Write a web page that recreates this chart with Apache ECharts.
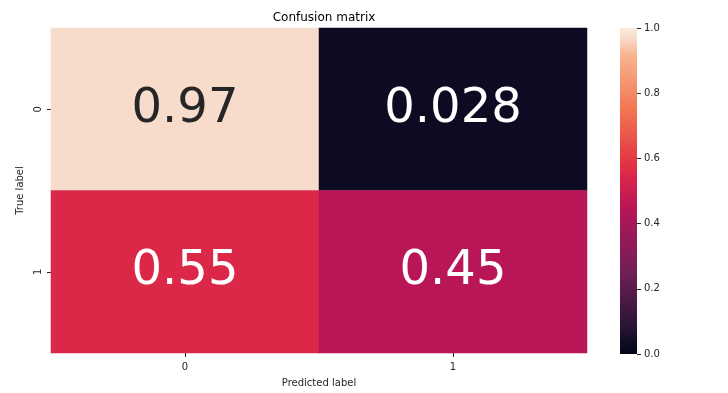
<!DOCTYPE html>
<html><head><meta charset="utf-8">
<script src="https://cdn.jsdelivr.net/npm/echarts@6/dist/echarts.min.js"></script>
<style>html,body{margin:0;padding:0;background:#fff}#c{width:728px;height:393px}</style>
</head><body><div id="c"></div>
<script>
const xCategories = ['0', '1'];
const yCategories = ['0', '1'];
const matrixValues = [
  [0.97, 0.028],
  [0.55, 0.45]
];
const valueLabels = [
  ['0.97', '0.028'],
  ['0.55', '0.45']
];
const colorbarTicks = [0, 0.2, 0.4, 0.6, 0.8, 1.0];

const rocketStops = [
  [0, [3, 5, 26]], [0.028, [12, 11, 34]], [0.083, [40, 20, 52]], [0.25, [112, 31, 87]], [0.417, [173, 23, 89]],
  [0.45, [185, 22, 87]], [0.55, [219, 40, 73]], [0.583, [225, 51, 66]], [0.75, [243, 118, 81]],
  [0.917, [246, 180, 143]], [0.97, [248, 220, 203]], [1, [250, 235, 221]]
];
function rocket(t) {
  for (let i = 1; i < rocketStops.length; i++) {
    const [p1, c1] = rocketStops[i], [p0, c0] = rocketStops[i - 1];
    if (t <= p1) {
      const f = (t - p0) / (p1 - p0);
      return 'rgb(' + c0.map((v, k) => Math.round(v + f * (c1[k] - v))).join(',') + ')';
    }
  }
  return 'rgb(250,235,221)';
}
const rampColors = [];
for (let i = 0; i <= 200; i++) rampColors.push(rocket(i / 200));

const data = [];
yCategories.forEach((yc, yi) => xCategories.forEach((xc, xi) => {
  const v = matrixValues[yi][xi];
  data.push({
    value: [xi, yi, v],
    itemStyle: { color: rocket(v) },
    label: { formatter: valueLabels[yi][xi], color: v > 0.6 ? '#262626' : '#ffffff' }
  });
}));

const font = 'DejaVu Sans';
const chart = echarts.init(document.getElementById('c'));
chart.setOption({
  backgroundColor: '#fff',
  animation: false,
  title: { text: 'Confusion matrix', left: 319, top: 7, textAlign: 'center',
    textStyle: { fontFamily: font, fontSize: 12, fontWeight: 'normal', color: '#000' } },
  grid: [
    { left: 51, right: 141, top: 28, bottom: 39 },
    { left: 637, width: 1, top: 28, bottom: 39 }
  ],
  xAxis: [
    { type: 'category', data: xCategories, gridIndex: 0,
      name: 'Predicted label', nameLocation: 'middle', nameGap: 25,
      nameTextStyle: { fontFamily: font, fontSize: 10, color: '#262626' },
      axisLine: { show: false }, splitLine: { show: false },
      axisTick: { show: true, alignWithLabel: true, length: 4, lineStyle: { color: '#262626' } },
      axisLabel: { fontFamily: font, fontSize: 10, color: '#262626', margin: 9 } },
    { type: 'value', gridIndex: 1, show: false, min: 0, max: 1 }
  ],
  yAxis: [
    { type: 'category', data: yCategories, inverse: true, gridIndex: 0,
      name: 'True label', nameLocation: 'middle', nameGap: 16,
      nameTextStyle: { fontFamily: font, fontSize: 10, color: '#262626' },
      axisLine: { show: false }, splitLine: { show: false },
      axisTick: { show: true, alignWithLabel: true, length: 4, lineStyle: { color: '#262626' } },
      axisLabel: { fontFamily: font, fontSize: 10, color: '#262626', rotate: 90, margin: 8 } },
    { type: 'value', gridIndex: 1, position: 'right', min: 0, max: 1, interval: 0.2,
      axisLine: { show: false }, splitLine: { show: false },
      axisTick: { show: true, length: 4, lineStyle: { color: '#262626' } },
      axisLabel: { fontFamily: font, fontSize: 10, color: '#262626', margin: 6,
        formatter: v => v.toFixed(1) } }
  ],
  graphic: [{
    type: 'rect', shape: { x: 620, y: 28, width: 17, height: 326 }, z: -10,
    style: { fill: new echarts.graphic.LinearGradient(0, 1, 0, 0,
      rampColors.map((c, i) => ({ offset: i / (rampColors.length - 1), color: c }))) }
  }],
  series: [{
    type: 'heatmap', xAxisIndex: 0, yAxisIndex: 0, data: data,
    label: { show: true, fontFamily: font, fontSize: 48 },
    itemStyle: { borderWidth: 0 },
    emphasis: { disabled: true }
  }]
});
</script></body></html>
